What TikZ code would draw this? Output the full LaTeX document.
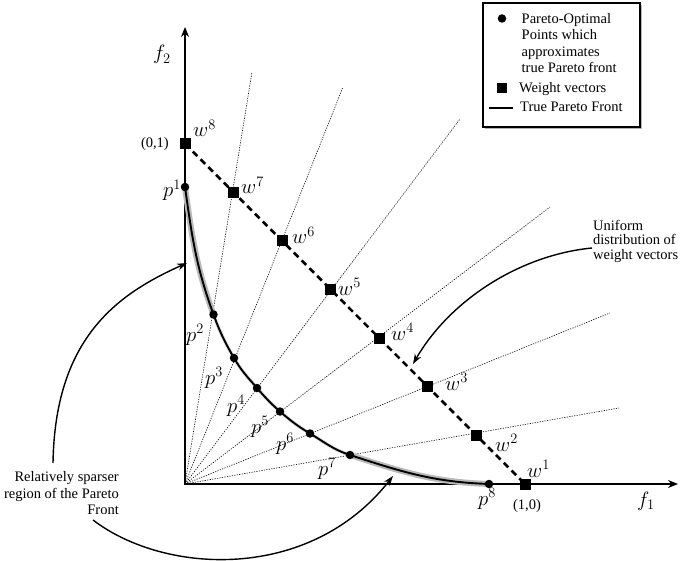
\documentclass[tikz,border=0pt]{standalone}
\usepackage{fontspec}
\setmainfont{Liberation Serif}
\usetikzlibrary{arrows.meta,shadows}
\begin{document}
\begin{tikzpicture}[x=1pt,y=1pt,
  axis/.style={line width=1.6pt},
  ray/.style={line width=0.6pt, dash pattern=on 1.2pt off 1.3pt},
  wline/.style={line width=2.6pt, dash pattern=on 6.5pt off 4.5pt},
  ptmark/.style={circle, fill=black, inner sep=0pt, minimum size=8.5pt},
  sqmark/.style={rectangle, fill=black, inner sep=0pt, minimum size=11pt},
  mlab/.style={font=\fontsize{21}{24}\selectfont, inner sep=0pt},
  txt/.style={font=\fontsize{14.5}{16.7}\selectfont, inner sep=0pt},
  ann/.style={-{Stealth[length=10pt,width=7pt]}, line width=1.4pt},
]
\useasboundingbox (0,0) rectangle (685,-561);

% axes
\coordinate (O) at (185,-484);
\coordinate (Ytip) at (185,-27);
\coordinate (Xtip) at (678,-484);
\draw[axis, {Stealth[length=10pt,width=8pt]}-{Stealth[length=10pt,width=8pt]}] (Ytip) -- (O) -- (Xtip);

% weight vector positions
\coordinate (c1) at (525,-484);
\coordinate (c2) at (476.4,-435.4);
\coordinate (c3) at (427.9,-386.7);
\coordinate (c4) at (379.3,-338.1);
\coordinate (c5) at (330.7,-289.6);
\coordinate (c6) at (282.1,-241.0);
\coordinate (c7) at (233.6,-192.3);
\coordinate (c8) at (185,-143.7);

% ray ends
\coordinate (e2) at (619,-408);
\coordinate (e3) at (610,-313);
\coordinate (e4) at (550,-207);
\coordinate (e5) at (460,-119);
\coordinate (e6) at (343,-87);
\coordinate (e7) at (252,-72);
\foreach \i in {2,...,7}{\draw[ray] (O) -- (e\i);}

% dashed line of weight vectors
\draw[wline] (c8) -- (c1);

% Pareto points
\coordinate (q1) at (185,-187);
\coordinate (q2) at (213.5,-314.5);
\coordinate (q3) at (234,-358);
\coordinate (q4) at (257,-388);
\coordinate (q5) at (280,-411.5);
\coordinate (q6) at (310,-433.5);
\coordinate (q7) at (350,-455);
\coordinate (q8) at (489,-484);

% halo
\draw[line width=3.5pt, gray!30] (q1) to[out=-82,in=110] (q2) to[out=-70,in=120] (q3) to[out=-60,in=131] (q4) to[out=-49,in=139] (q5) to[out=-41,in=149] (q6) to[out=-31,in=162] (q7) to[out=-18,in=178] (q8);
\draw[line width=6pt, gray!55] (q1) to[out=-82,in=110] (q2);
\draw[line width=6pt, gray!55] (q7) to[out=-18,in=178] (q8);
% true Pareto front
\draw[line width=1.9pt] (q1) to[out=-82,in=110] (q2) to[out=-70,in=120] (q3) to[out=-60,in=131] (q4) to[out=-49,in=139] (q5) to[out=-41,in=149] (q6) to[out=-31,in=162] (q7) to[out=-18,in=178] (q8);

\foreach \i in {1,...,8}{\node[ptmark] (p\i) at (q\i) {};}
\foreach \i in {1,...,8}{\node[sqmark] (w\i) at (c\i) {};}

% labels of weight vectors
\node[mlab, anchor=base west] (lw8) at (193,-137) {$w^8$};
\node[mlab, anchor=base west] (lw7) at (241,-194) {$w^7$};
\node[mlab, anchor=base west] (lw6) at (292,-244) {$w^6$};
\node[mlab, anchor=base west] (lw5) at (338,-295) {$w^5$};
\node[mlab, anchor=base west] (lw4) at (391,-340) {$w^4$};
\node[mlab, anchor=base west] (lw3) at (445,-390) {$w^3$};
\node[mlab, anchor=base west] (lw2) at (495,-451) {$w^2$};
\node[mlab, anchor=base west] (lw1) at (527,-477) {$w^1$};

% labels of Pareto points
\node[mlab, anchor=base east] (lp1) at (181,-197) {$p^1$};
\node[mlab, anchor=base west] (lp2) at (186,-341) {$p^2$};
\node[mlab, anchor=base west] (lp3) at (205,-384) {$p^3$};
\node[mlab, anchor=base west] (lp4) at (227,-412) {$p^4$};
\node[mlab, anchor=base west] (lp5) at (251,-433) {$p^5$};
\node[mlab, anchor=base west] (lp6) at (276,-450) {$p^6$};
\node[mlab, anchor=base west] (lp7) at (318,-475) {$p^7$};
\node[mlab, anchor=base west] (lp8) at (478,-505) {$p^8$};

% axis labels
\node[mlab, anchor=base west] (lf2) at (153,-60) {$f_2$};
\node[mlab, anchor=base west] (lf1) at (637,-506) {$f_1$};
\node[txt, anchor=base east] (l01) at (169,-148) {(0,1)};
\node[txt, anchor=base] (l10) at (527,-509) {(1,0)};

% legend
\node[draw, line width=1.3pt, fill=white, drop shadow={shadow xshift=1.6pt, shadow yshift=-1.6pt, opacity=0.6}, minimum width=157pt, minimum height=124pt, inner sep=0pt] (legend) at (561.5,-65) {};
\node[ptmark] (legpt) at (502,-18.5) {};
\node[txt, anchor=base west] (leg1) at (521.5,-23.3) {Pareto-Optimal};
\node[txt, anchor=base west] (leg2) at (521.5,-39.6) {Points which};
\node[txt, anchor=base west] (leg3) at (521.5,-56.2) {approximates};
\node[txt, anchor=base west] (leg4) at (521.5,-72.3) {true Pareto front};
\node[sqmark, minimum size=9.5pt] (legsq) at (502,-88) {};
\node[txt, anchor=base west] (leg5) at (519,-92.5) {Weight vectors};
\coordinate (ll1) at (489,-108);
\coordinate (ll2) at (513,-108);
\draw[line width=1.8pt] (ll1) -- (ll2);
\node[txt, anchor=base west] (leg6) at (520,-112) {True Pareto Front};

% annotations
\node[txt, anchor=base west] (u1) at (593,-230.5) {Uniform};
\node[txt, anchor=base west] (u2) at (593,-245) {distribution of};
\node[txt, anchor=base west] (u3) at (593,-259.5) {weight vectors};
\coordinate (ua) at (592,-248);
\coordinate (ub) at (413,-364);
\draw[ann] (ua) .. controls (520,-255) and (450,-300) .. (ub);

\node[txt, anchor=base east] (s1) at (119,-481.5) {Relatively sparser};
\node[txt, anchor=base east] (s2) at (119,-498) {region of the Pareto};
\node[txt, anchor=base east] (s3) at (119,-514) {Front};
\coordinate (sa) at (53,-463);
\coordinate (sb) at (187,-263);
\draw[ann] (sa) .. controls (55,-340) and (115,-295) .. (sb);
\coordinate (sc) at (93,-520);
\coordinate (sd) at (393,-476);
\draw[ann] (sc) .. controls (165,-575) and (310,-582) .. (sd);
\end{tikzpicture}
\end{document}
